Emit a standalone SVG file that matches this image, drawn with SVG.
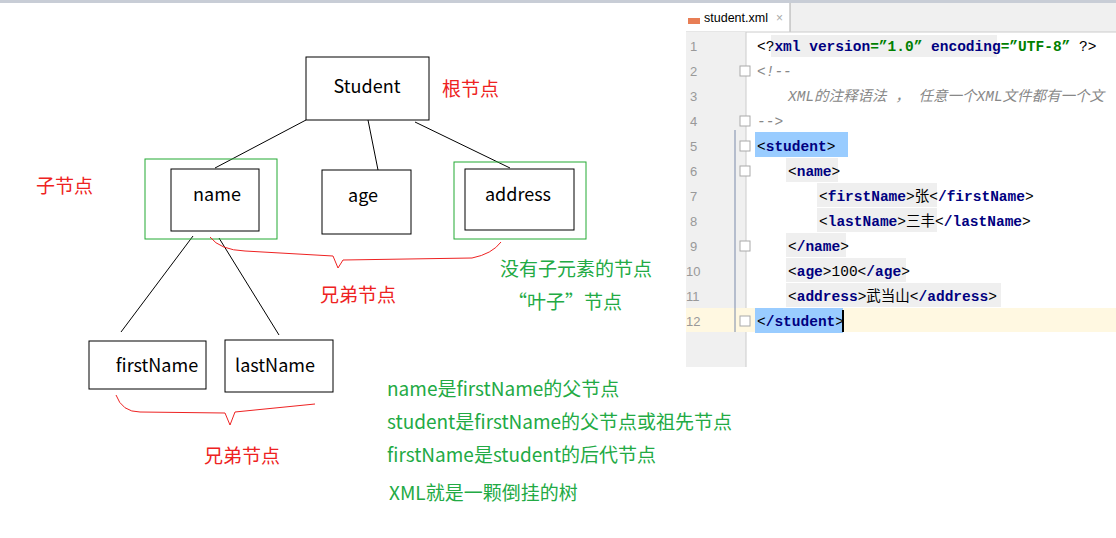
<svg xmlns="http://www.w3.org/2000/svg" width="1116" height="538" viewBox="0 0 1116 538">
<style>
.n{fill:#fff;stroke:#000;stroke-width:1}
.g{fill:none;stroke:#22aa33;stroke-width:1}
.t{font-family:"Noto Sans CJK SC","Liberation Sans",sans-serif;font-size:18px;fill:#000}
.r{font-family:"Noto Sans CJK SC",sans-serif;font-size:19px;fill:#ee2222}
.gr{font-family:"Noto Sans CJK SC","Liberation Sans",sans-serif;font-size:19px;fill:#22aa44}
.c{font-family:"Liberation Mono","Noto Sans CJK SC",monospace;font-size:14.5px}
.k{fill:#000080;font-weight:bold}
.s{fill:#008000;font-weight:bold}
.p{fill:#000}
.ln{font-family:"Liberation Sans",sans-serif;font-size:13px;fill:#999}
.br{fill:none;stroke:#ee2222;stroke-width:1}
</style>
<rect width="1116" height="538" fill="#fff"/>
<rect x="0" y="0" width="1116" height="3" fill="#c8cdd6"/>
<g id="connectors" stroke="#000" stroke-width="1">
<line x1="306" y1="120" x2="215" y2="168"/>
<line x1="367" y1="115" x2="378" y2="170"/>
<line x1="415" y1="122" x2="510" y2="168"/>
<line x1="193" y1="236" x2="121" y2="332"/>
<line x1="219" y1="238" x2="279" y2="335"/>
</g>
<g id="student"><rect class="n" x="306" y="57" width="123" height="63"/><text class="t" x="367" y="93" text-anchor="middle">Student</text></g>
<g id="name"><rect class="g" x="145" y="159" width="132" height="80"/><rect class="n" x="171" y="169" width="88" height="62"/><text class="t" x="217" y="201" text-anchor="middle">name</text></g>
<g id="age"><rect class="n" x="322" y="170" width="89" height="64"/><text class="t" x="363" y="202" text-anchor="middle">age</text></g>
<g id="address"><rect class="g" x="454" y="162" width="132" height="77"/><rect class="n" x="465" y="169" width="109" height="61"/><text class="t" x="518" y="201" text-anchor="middle">address</text></g>
<g id="firstName"><rect class="n" x="89" y="341" width="117" height="48"/><text class="t" x="157" y="372" text-anchor="middle">firstName</text></g>
<g id="lastName"><rect class="n" x="225" y="340" width="108" height="52"/><text class="t" x="275" y="372" text-anchor="middle">lastName</text></g>
<g id="braces">
<path class="br" d="M210,237 Q220,250 245,251 L333,256 L338,268 L343,260 L472,258 Q492,254 501,242"/>
<path class="br" d="M116,395 Q122,412 140,412 L225,413 L230,425 L235,412 L315,404"/>
</g>
<g id="labels">
<text class="r" x="442" y="96">根节点</text>
<text class="r" x="36" y="193">子节点</text>
<text class="r" x="320" y="302">兄弟节点</text>
<text class="r" x="204" y="463">兄弟节点</text>
<text class="gr" x="500" y="276">没有子元素的节点</text>
<text class="gr" x="508" y="309">“叶子”节点</text>
<text class="gr" x="387" y="396">name是firstName的父节点</text>
<text class="gr" x="387" y="429">student是firstName的父节点或祖先节点</text>
<text class="gr" x="387" y="462">firstName是student的后代节点</text>
<text class="gr" x="389" y="500">XML就是一颗倒挂的树</text>
</g>
<g id="editor">
<rect x="686" y="3" width="430" height="364" fill="#fff"/>
<rect x="686" y="3" width="430" height="29" fill="#f0f0f0"/>
<rect x="686" y="3" width="104" height="29" fill="#fff"/>
<line x1="790" y1="3" x2="790" y2="32" stroke="#aaa"/>
<line x1="686" y1="32" x2="1116" y2="32" stroke="#ccc"/>
<rect x="688" y="18" width="12" height="6" fill="#e87e55"/>
<text x="704" y="22" font-family="Liberation Sans,sans-serif" font-size="12.5" fill="#000">student.xml</text>
<text x="776" y="22" font-family="Liberation Sans,sans-serif" font-size="12" fill="#aaa">×</text>
<rect x="686" y="32" width="60" height="335" fill="#f0f0f0"/>
<line x1="746" y1="32" x2="746" y2="367" stroke="#ccc"/>
<rect x="686" y="308" width="430" height="24" fill="#fff8e1"/>
<line x1="735" y1="130" x2="735" y2="332" stroke="#7a8aaa"/>
<g class="ln">
<text x="690" y="51">1</text><text x="690" y="76">2</text><text x="690" y="101">3</text><text x="690" y="126">4</text><text x="690" y="151">5</text><text x="690" y="176">6</text><text x="690" y="201">7</text><text x="690" y="226">8</text><text x="690" y="251">9</text><text x="686" y="276">10</text><text x="686" y="301">11</text><text x="686" y="326">12</text>
</g>
<g fill="#fff" stroke="#aaa">
<rect x="740" y="66" width="10" height="10"/><rect x="740" y="116" width="10" height="10"/><rect x="740" y="141" width="10" height="10"/><rect x="740" y="166" width="10" height="10"/><rect x="740" y="241" width="10" height="10"/><rect x="740" y="316" width="10" height="10"/>
</g>
<rect x="771" y="35" width="226" height="22" fill="#efefef"/>
<rect x="755" y="132" width="93" height="25" fill="#99ccff"/>
<rect x="755" y="308" width="88" height="25" fill="#99ccff"/>
<rect x="786" y="158" width="52" height="24" fill="#efefef"/>
<rect x="817" y="183" width="120" height="24" fill="#efefef"/>
<rect x="817" y="208" width="120" height="24" fill="#efefef"/>
<rect x="786" y="233" width="60" height="24" fill="#efefef"/>
<rect x="786" y="258" width="120" height="24" fill="#efefef"/>
<rect x="786" y="283" width="215" height="24" fill="#efefef"/>
<line x1="843" y1="310" x2="843" y2="332" stroke="#000" stroke-width="2"/>
<text class="c" x="757" y="51" xml:space="preserve"><tspan class="p">&lt;?</tspan><tspan class="k">xml version</tspan><tspan class="s">=”1.0”</tspan> <tspan class="k">encoding</tspan><tspan class="s">=”UTF-8”</tspan><tspan class="p"> ?&gt;</tspan></text>
<text class="c" x="757" y="76" fill="#888" font-style="italic">&lt;!--</text>
<text class="c" x="788" y="101" fill="#888" font-style="italic">XML的注释语法 ， 任意一个XML文件都有一个文</text>
<text class="c" x="757" y="126" fill="#888" font-style="italic">--&gt;</text>
<text class="c" x="757" y="151"><tspan class="p">&lt;</tspan><tspan class="k">student</tspan><tspan class="p">&gt;</tspan></text>
<text class="c" x="788" y="176"><tspan class="p">&lt;</tspan><tspan class="k">name</tspan><tspan class="p">&gt;</tspan></text>
<text class="c" x="819" y="201"><tspan class="p">&lt;</tspan><tspan class="k">firstName</tspan><tspan class="p">&gt;张&lt;</tspan><tspan class="k">/firstName</tspan><tspan class="p">&gt;</tspan></text>
<text class="c" x="819" y="226"><tspan class="p">&lt;</tspan><tspan class="k">lastName</tspan><tspan class="p">&gt;三丰&lt;</tspan><tspan class="k">/lastName</tspan><tspan class="p">&gt;</tspan></text>
<text class="c" x="788" y="251"><tspan class="p">&lt;</tspan><tspan class="k">/name</tspan><tspan class="p">&gt;</tspan></text>
<text class="c" x="788" y="276"><tspan class="p">&lt;</tspan><tspan class="k">age</tspan><tspan class="p">&gt;100&lt;</tspan><tspan class="k">/age</tspan><tspan class="p">&gt;</tspan></text>
<text class="c" x="788" y="301"><tspan class="p">&lt;</tspan><tspan class="k">address</tspan><tspan class="p">&gt;武当山&lt;</tspan><tspan class="k">/address</tspan><tspan class="p">&gt;</tspan></text>
<text class="c" x="757" y="326"><tspan class="p">&lt;</tspan><tspan class="k">/student</tspan><tspan class="p">&gt;</tspan></text>
</g>
</svg>
